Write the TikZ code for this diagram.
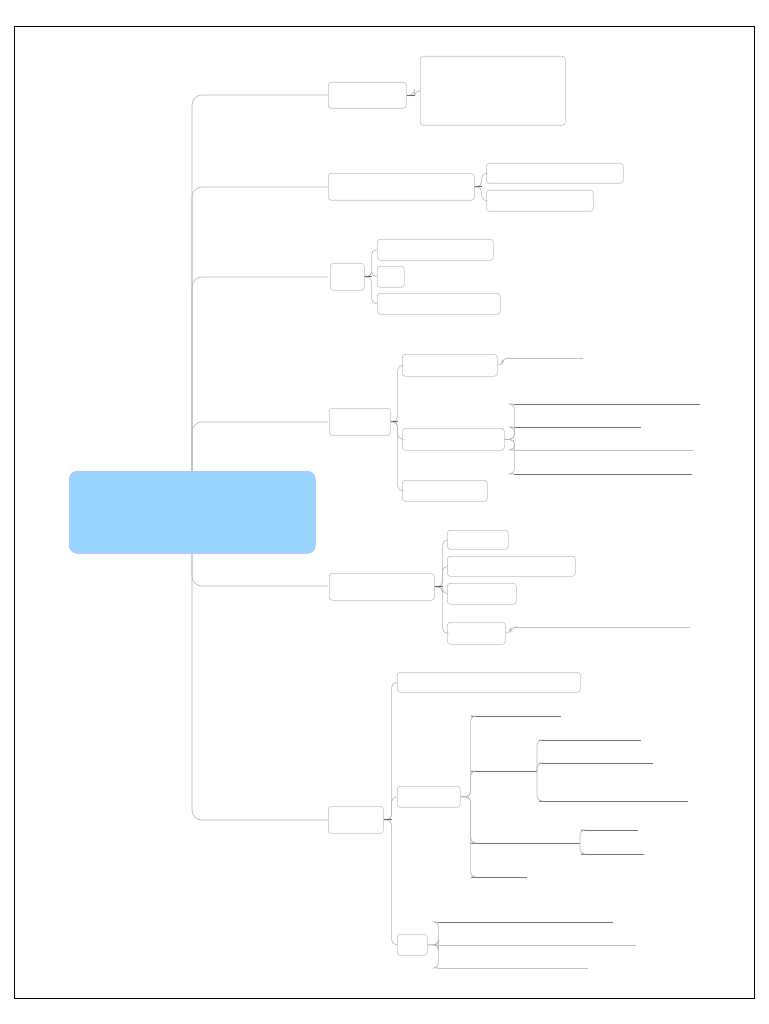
\documentclass[tikz,border=0pt]{standalone}
\begin{document}
\begin{tikzpicture}[x=1pt,y=-1pt,
  box/.style={draw=black!25,rounded corners=3pt,line width=0.6pt,fill=white},
  conn/.style={draw=black!30,line width=0.6pt,rounded corners=5pt},
  uline/.style={draw=black!55,line width=0.8pt},
  lline/.style={draw=black!25,line width=0.6pt}]
\useasboundingbox (0,0) rectangle (768,1024);
\draw[black,line width=0.8pt] (14,26) rectangle (754,998);
% trunk
\coordinate (tt) at (192,471);
\coordinate (tb) at (192,553);
\foreach \n/\y in {A/95,B/187,C/277,D/422} \draw[conn,rounded corners=10pt] (tt) -- (192,\y) -- (328,\y);
\foreach \n/\y in {E/586,F/820} \draw[conn,rounded corners=10pt] (tb) -- (192,\y) -- (328,\y);
\node[box,fill=blue!40!cyan!40,draw=blue!30,rounded corners=8pt,minimum width=246pt,minimum height=82pt,anchor=north west] (root) at (69,471) {};
% helper
\newcommand{\bx}[5]{\node[box,anchor=north west,minimum width=#4-#2,minimum height=#5-#3,inner sep=0pt] (#1) at (#2,#3) {};}
\bx{A}{328}{82}{406}{108}
\bx{A1}{420}{56}{565}{125}
\bx{B}{328}{173}{474}{200}
\bx{B1}{486}{163}{623}{183}
\bx{B2}{486}{190}{593}{211}
\bx{C}{330}{263}{364}{290}
\bx{C1}{377}{239}{493}{260}
\bx{C2}{377}{266}{404}{287}
\bx{C3}{377}{293}{500}{314}
\bx{D}{329}{408}{390}{435}
\bx{D1}{402}{354}{497}{376}
\bx{D2}{402}{428}{504}{450}
\bx{D3}{402}{480}{487}{501}
\bx{E}{329}{573}{434}{600}
\bx{E1}{447}{530}{508}{549}
\bx{E2}{447}{556}{575}{576}
\bx{E3}{447}{583}{516}{604}
\bx{E4}{447}{622}{505}{644}
\bx{F}{328}{806}{383}{833}
\bx{F1}{397}{672}{580}{692}
\bx{F2}{397}{786}{460}{807}
\bx{F3}{397}{934}{427}{955}
% box connectors
\newcommand{\cn}[3]{\draw[conn] (#1.east) -- ++(#3,0) |- (#2.west);}
\cn{A}{A1}{8}
\foreach \c in {B1,B2} {\cn{B}{\c}{7}}
\foreach \c in {C1,C2,C3} {\cn{C}{\c}{7}}
\foreach \c in {D1,D2,D3} {\cn{D}{\c}{7}}
\foreach \c in {E1,E2,E3,E4} {\cn{E}{\c}{8}}
\foreach \c in {F1,F2,F3} {\cn{F}{\c}{8}}
\draw[black!60,line width=0.8pt] (A.east)--++(8,0) (B.east)--++(7,0) (C.east)--++(7,0) (D.east)--++(7,0) (E.east)--++(8,0) (F.east)--++(8,0);
% line leaves
\newcommand{\lf}[5]{\coordinate (#1s) at (#2,#3); \coordinate (#1e) at (#4,#3); \draw[#5] (#1s) -- (#1e);}
\lf{d11}{507}{358}{583}{lline}
\draw[conn] (D1.east) -- ++(5,0) |- (d11s);
\lf{d21}{514}{404}{700}{uline}
\lf{d22}{514}{427}{641}{uline}
\lf{d23}{514}{450}{693}{lline}
\lf{d24}{514}{474}{692}{uline}
\foreach \c in {d21,d22,d23,d24} \draw[conn] (D2.east) -- ++(10,0) |- (\c s);
\lf{e41}{515}{627}{690}{lline}
\draw[conn] (E4.east) -- ++(5,0) |- (e41s);
\lf{f21}{471}{716}{561}{uline}
\lf{f22}{471}{771}{537}{uline}
\lf{f23}{471}{843}{580}{uline}
\lf{f24}{471}{877}{527}{uline}
\foreach \c in {f21,f22,f23,f24} \draw[conn] (F2.east) -- ++(10,0) |- (\c s);
\lf{f221}{539}{740}{641}{uline}
\lf{f222}{539}{763}{653}{uline}
\lf{f223}{539}{801}{688}{uline}
\foreach \c in {f221,f222,f223} \draw[conn] (f22e) |- (\c s);
\lf{f231}{581}{830}{638}{uline}
\lf{f232}{581}{854}{644}{uline}
\foreach \c in {f231,f232} \draw[conn] (f23e) |- (\c s);
\lf{f31}{438}{922}{613}{uline}
\lf{f32}{438}{945}{636}{lline}
\lf{f33}{438}{968}{588}{lline}
\foreach \c in {f31,f32,f33} \draw[conn] (F3.east) -- ++(11,0) |- (\c s);
\end{tikzpicture}
\end{document}
